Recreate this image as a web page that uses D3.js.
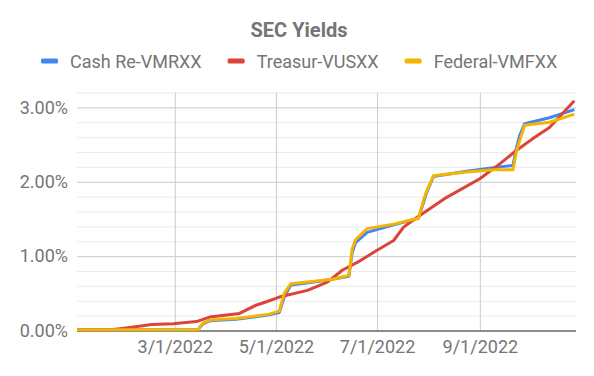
<!DOCTYPE html>
<html>
<head>
<meta charset="utf-8">
<script src="https://cdn.jsdelivr.net/npm/d3@7"></script>
<style>
  body { margin: 0; background: #fff; }
  svg { display: block; font-family: Roboto, "Noto Sans", sans-serif; }
</style>
</head>
<body>
<div id="chart"></div>
<script>
// series names + colours (legend order)
var seriesNames = ["Cash Re-VMRXX", "Treasur-VUSXX", "Federal-VMFXX"];
var seriesColors = ["#4285F4", "#DB4437", "#F4B400"];

// Cash Reserves + Federal share the same sample dates
var fedDates = ["2022-01-01", "2022-03-15", "2022-03-18", "2022-03-22", "2022-04-07", "2022-04-27",
  "2022-05-03", "2022-05-06", "2022-05-10", "2022-05-23", "2022-06-04", "2022-06-14", "2022-06-16",
  "2022-06-18", "2022-06-25", "2022-07-11", "2022-07-26", "2022-07-29", "2022-07-31", "2022-08-04",
  "2022-08-24", "2022-09-09", "2022-09-21", "2022-09-23", "2022-09-25", "2022-09-28", "2022-10-13",
  "2022-10-28"];
var cashVals = [0.01, 0.01, 0.09, 0.13, 0.15, 0.21, 0.24, 0.45, 0.61, 0.65, 0.69, 0.73, 1.05,
  1.18, 1.32, 1.42, 1.51, 1.72, 1.86, 2.07, 2.14, 2.19, 2.22, 2.45, 2.62, 2.78, 2.86, 2.97];
var fedVals = [0.01, 0.01, 0.10, 0.14, 0.16, 0.22, 0.26, 0.50, 0.63, 0.66, 0.69, 0.74, 1.10,
  1.22, 1.37, 1.43, 1.51, 1.75, 1.88, 2.08, 2.13, 2.16, 2.16, 2.40, 2.55, 2.76, 2.80, 2.91];

// Treasury
var tsyDates = ["2022-01-01", "2022-01-22", "2022-02-02", "2022-02-15", "2022-02-28", "2022-03-14",
  "2022-03-22", "2022-04-09", "2022-04-19", "2022-04-27", "2022-05-03", "2022-05-20", "2022-06-01",
  "2022-06-10", "2022-06-21", "2022-07-01", "2022-07-11", "2022-07-17", "2022-07-25", "2022-08-12",
  "2022-09-01", "2022-09-13", "2022-09-23", "2022-10-03", "2022-10-13", "2022-10-21", "2022-10-28"];
var tsyVals = [0.01, 0.01, 0.04, 0.08, 0.09, 0.12, 0.18, 0.23, 0.34, 0.40, 0.45, 0.54, 0.65,
  0.81, 0.94, 1.08, 1.21, 1.39, 1.52, 1.79, 2.04, 2.24, 2.42, 2.58, 2.73, 2.92, 3.09];

var xTickDates = ["2022-03-01", "2022-05-01", "2022-07-01", "2022-09-01"];
var yTicks = [0, 1, 2, 3];
var yMinorTicks = [0.2, 0.4, 0.6, 0.8, 1.2, 1.4, 1.6, 1.8, 2.2, 2.4, 2.6, 2.8, 3.2];

var W = 594, H = 376;
var plotL = 77, plotR = 576, plotT = 92.5, plotB = 330.5;

var parse = d3.timeParse("%Y-%m-%d");
var xScale = d3.scaleTime().domain([parse("2022-01-01"), parse("2022-10-29")]).range([plotL, plotR]);
var yScale = d3.scaleLinear().domain([0, 3.2]).range([plotB, plotT]);

var svg = d3.select("#chart").append("svg").attr("width", W).attr("height", H);

// minor horizontal grid
svg.append("g").attr("transform", "translate(" + plotL + ",0)")
  .call(d3.axisLeft(yScale).tickValues(yMinorTicks).tickSize(-(plotR - plotL)).tickFormat(""))
  .call(function(g) {
    g.select(".domain").remove();
    g.selectAll("line").attr("stroke", "#ebebeb");
  });

// major horizontal grid + labels
svg.append("g").attr("transform", "translate(" + plotL + ",0)")
  .call(d3.axisLeft(yScale).tickValues(yTicks).tickSize(-(plotR - plotL)).tickPadding(9)
    .tickFormat(function(d) { return d.toFixed(2) + "%"; }))
  .call(function(g) {
    g.select(".domain").remove();
    g.selectAll("line").attr("stroke", "#cccccc");
    g.selectAll("text").attr("fill", "#757575").style("font-size", "18px")
      .style("font-family", "Roboto, sans-serif");
  });

// vertical grid + date labels
svg.append("g").attr("transform", "translate(0," + plotB + ")")
  .call(d3.axisBottom(xScale).tickValues(xTickDates.map(parse)).tickSize(-(plotB - plotT))
    .tickPadding(10).tickFormat(d3.timeFormat("%-m/%-d/%Y")))
  .call(function(g) {
    g.select(".domain").remove();
    g.selectAll("line").attr("stroke", "#cccccc");
    g.selectAll("text").attr("fill", "#757575").style("font-size", "18px")
      .style("font-family", "Roboto, sans-serif");
  });

// baseline
svg.append("line").attr("x1", plotL).attr("x2", plotR)
  .attr("y1", yScale(0) + 0.5).attr("y2", yScale(0) + 0.5)
  .attr("stroke", "#333").attr("stroke-width", 1);

var line = d3.line()
  .x(function(d) { return xScale(d.date); })
  .y(function(d) { return yScale(d.v); });

function pts(dates, vals) {
  return dates.map(function(d, i) { return {date: parse(d), v: vals[i]}; });
}

var allSeries = [pts(fedDates, cashVals), pts(tsyDates, tsyVals), pts(fedDates, fedVals)];

allSeries.forEach(function(s, i) {
  svg.append("path")
    .attr("d", line(s))
    .attr("fill", "none")
    .attr("stroke", seriesColors[i])
    .attr("stroke-width", 3)
    .attr("stroke-linejoin", "round");
});

// title
svg.append("text").attr("x", 299).attr("y", 37)
  .attr("text-anchor", "middle")
  .style("font-size", "20px").style("font-weight", "bold")
  .attr("fill", "#757575")
  .text("SEC Yields");

// legend
var lx = 41;
seriesNames.forEach(function(name, i) {
  svg.append("rect").attr("x", lx).attr("y", 58.5).attr("width", 17).attr("height", 5)
    .attr("rx", 1.5).attr("fill", seriesColors[i]);
  var t = svg.append("text").attr("x", lx + 29).attr("y", 67.5)
    .style("font-size", "18px").attr("fill", "#757575").text(name);
  lx = lx + 29 + t.node().getComputedTextLength() + 26;
});
</script>
</body>
</html>
